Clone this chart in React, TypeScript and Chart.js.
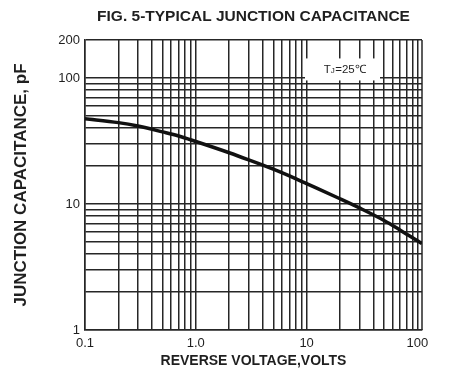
import React, { useEffect, useRef } from 'react';
import { Chart, registerables } from 'chart.js';

Chart.register(...registerables);

// Reverse voltage (V) and typical junction capacitance (pF)
const voltage = [0.1, 0.2, 0.3, 0.5, 0.7, 1, 2, 3, 5, 7, 10, 20, 30, 50, 70, 100, 110];
const capacitance = [47.5, 44.2, 41.5, 37.3, 34.6, 31.3, 25.5, 22.4, 18.9, 16.7, 14.5, 11.0, 9.3, 7.4, 6.2, 5.1, 4.85];

// Axis ranges, grid values and tick labels
const xMin = 0.1;
const xMax = 110;
const yMin = 1;
const yMax = 200;
const xGridValues = [
  0.1, 0.2, 0.3, 0.4, 0.5, 0.6, 0.7, 0.8, 0.9,
  1, 2, 3, 4, 5, 6, 7, 8, 9,
  10, 20, 30, 40, 50, 60, 70, 80, 90,
  100,
];
const yGridValues = [
  1, 2, 3, 4, 5, 6, 7, 8, 9,
  10, 20, 30, 40, 50, 60, 70, 80, 90,
  100, 200,
];
const xTickLabels: Record<string, string> = { '0.1': '0.1', '1': '1.0', '10': '10', '100': '100' };
const yTickLabels: Record<string, string> = { '1': '1', '10': '10', '100': '100', '200': '200' };

const titleText = 'FIG. 5-TYPICAL JUNCTION CAPACITANCE';
const xTitleText = 'REVERSE VOLTAGE,VOLTS';
const yTitleText = 'JUNCTION CAPACITANCE, pF';
const noteMain = 'T';
const noteSub = 'J';
const noteRest = '=25\u2103';

const FONT = '"Liberation Sans", Arial, Helvetica, sans-serif';
const GRID = '#262626';
const TEXT = '#1f1f1f';

const overlayPlugin = {
  id: 'overlay',
  beforeDatasetsDraw(chart: any) {
    const { ctx, chartArea } = chart;
    const ys = chart.scales.y;
    ctx.save();
    // frame right edge
    ctx.strokeStyle = GRID;
    ctx.lineWidth = 1.5;
    ctx.beginPath();
    ctx.moveTo(chartArea.right, chartArea.top);
    ctx.lineTo(chartArea.right, chartArea.bottom);
    ctx.stroke();
    // note box
    const y100 = ys.getPixelForValue(100);
    const boxBottom = y100 + 2.5;
    const boxTop = boxBottom - 22;
    const boxLeft = chartArea.left + 220;
    const boxRight = chartArea.left + 295;
    ctx.fillStyle = '#ffffff';
    ctx.fillRect(boxLeft, boxTop, boxRight - boxLeft, boxBottom - boxTop);
    const cy = (boxTop + boxBottom) / 2;
    ctx.fillStyle = TEXT;
    ctx.textBaseline = 'alphabetic';
    ctx.textAlign = 'left';
    const baseline = cy + 4;
    ctx.font = `11.5px ${FONT}`;
    const wT = ctx.measureText(noteMain).width;
    ctx.font = `8px ${FONT}`;
    const wJ = ctx.measureText(noteSub).width;
    ctx.font = `11.5px ${FONT}`;
    const wR = ctx.measureText(noteRest).width;
    let x = (boxLeft + boxRight) / 2 - (wT + wJ + wR) / 2 + 2;
    ctx.fillText(noteMain, x, baseline);
    x += wT;
    ctx.font = `8px ${FONT}`;
    ctx.fillText(noteSub, x, baseline);
    x += wJ + 0.5;
    ctx.font = `11.5px ${FONT}`;
    ctx.fillText(noteRest, x, baseline);
    ctx.restore();
  },
  afterDraw(chart: any) {
    const { ctx, chartArea } = chart;
    ctx.save();
    ctx.fillStyle = TEXT;
    ctx.font = `bold 15.5px ${FONT}`;
    ctx.textAlign = 'center';
    ctx.textBaseline = 'middle';
    ctx.fillText(titleText, (chartArea.left + chartArea.right) / 2, 17);
    ctx.restore();
  },
};

export default function App() {
  const canvasRef = useRef<HTMLCanvasElement | null>(null);

  useEffect(() => {
    document.body.style.margin = '0';
    const canvas = canvasRef.current;
    if (!canvas) return;
    const chart = new Chart(canvas, {
      type: 'line',
      data: {
        datasets: [
          {
            data: voltage.map((v, i) => ({ x: v, y: capacitance[i] })),
            borderColor: '#111111',
            borderWidth: 3.5,
            pointRadius: 0,
            fill: false,
            tension: 0.4,
            cubicInterpolationMode: 'monotone',
          },
        ],
      },
      options: {
        animation: false,
        responsive: false,
        maintainAspectRatio: false,
        layout: { padding: { top: 40, right: 29, left: 0, bottom: 0 } },
        plugins: {
          legend: { display: false },
          title: { display: false },
          tooltip: { enabled: false },
        },
        scales: {
          x: {
            type: 'logarithmic',
            min: xMin,
            max: xMax,
            afterBuildTicks: (scale: any) => {
              scale.ticks = xGridValues.map((v) => ({ value: v }));
            },
            afterFit: (scale: any) => {
              scale.height = 52;
            },
            grid: { color: GRID, lineWidth: 1.5, drawTicks: false },
            border: { color: GRID, width: 1.5 },
            ticks: {
              autoSkip: false,
              maxRotation: 0,
              padding: 6,
              color: TEXT,
              font: { family: FONT, size: 13 },
              callback: (value: any) => xTickLabels[String(value)] ?? '',
            },
            title: {
              display: true,
              text: xTitleText,
              color: TEXT,
              font: { family: FONT, size: 14, weight: 'bold' },
              padding: { top: 0, bottom: 12 },
            },
          },
          y: {
            type: 'logarithmic',
            min: yMin,
            max: yMax,
            afterBuildTicks: (scale: any) => {
              scale.ticks = yGridValues.map((v) => ({ value: v }));
            },
            afterFit: (scale: any) => {
              scale.width = 85;
            },
            grid: { color: GRID, lineWidth: 1.5, drawTicks: false },
            border: { color: GRID, width: 1.5 },
            ticks: {
              autoSkip: false,
              padding: 5,
              color: TEXT,
              font: { family: FONT, size: 13 },
              callback: (value: any) => yTickLabels[String(value)] ?? '',
            },
            title: {
              display: true,
              text: yTitleText,
              color: TEXT,
              font: { family: FONT, size: 17, weight: 'bold' },
              padding: { top: 11, bottom: 0 },
            },
          },
        },
      },
      plugins: [overlayPlugin],
    } as any);
    return () => chart.destroy();
  }, []);

  return (
    <div style={{ width: 451, height: 382 }}>
      <canvas ref={canvasRef} width={451} height={382} style={{ display: 'block', width: 451, height: 382 }} />
    </div>
  );
}
